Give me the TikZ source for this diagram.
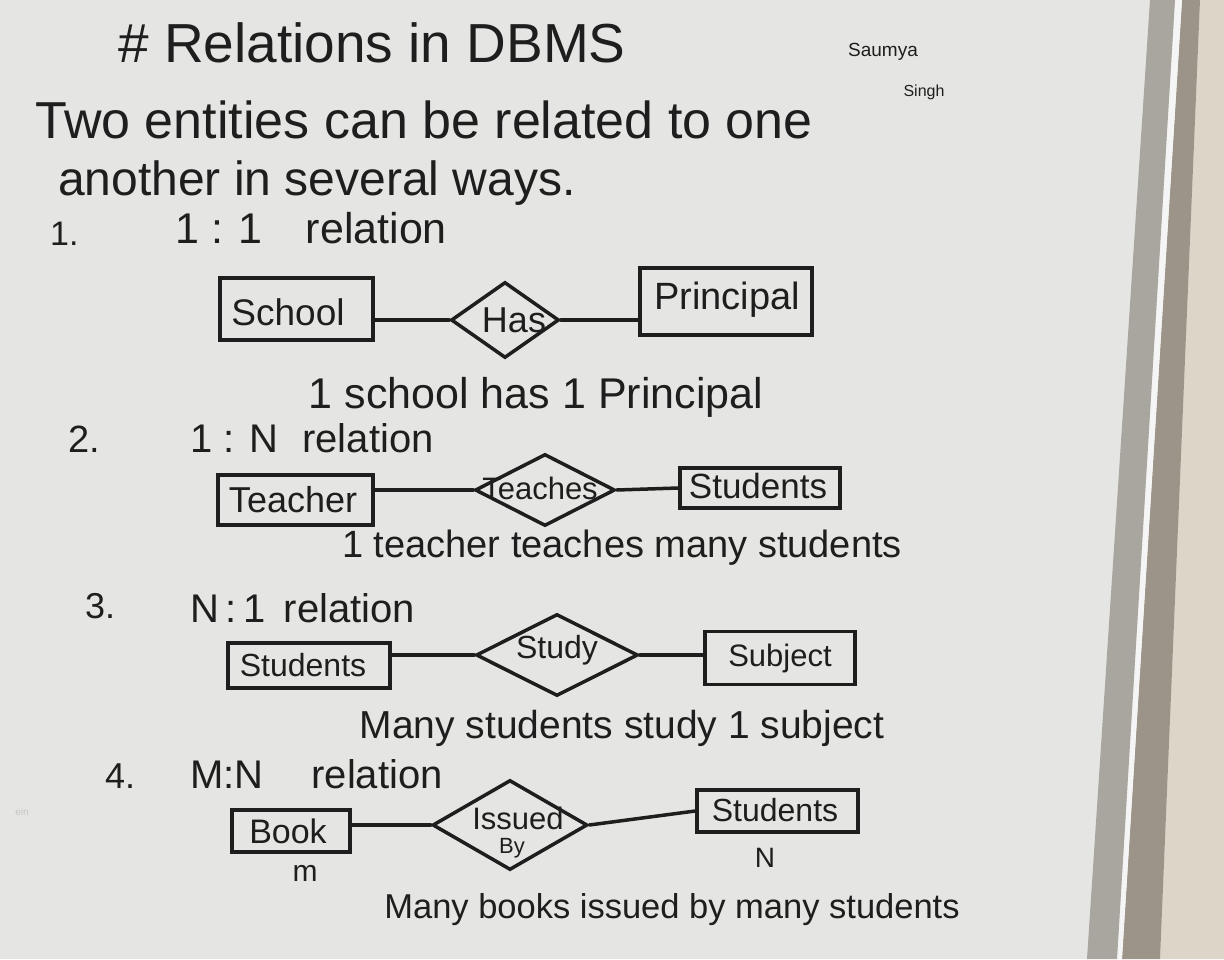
\documentclass[tikz,border=0pt]{standalone}
\usepackage{fontspec}
\setmainfont{Liberation Sans}
\usetikzlibrary{shapes.geometric}
\definecolor{board}{HTML}{E5E5E3}
\definecolor{ink}{HTML}{1E1E1E}
\definecolor{railA}{HTML}{A9A69F}
\definecolor{railB}{HTML}{9C9489}
\definecolor{wall}{HTML}{DDD6C8}
\newcommand\setfs[1]{\fontsize{#1}{#1}\selectfont}
\begin{document}
\begin{tikzpicture}[x=1pt,y=-1pt,
  txt/.style={text=ink, inner sep=0, anchor=base west},
  captxt/.style={text=ink, inner sep=0, anchor=base},
  lbl/.style={text=ink, inner sep=0},
  entity/.style={draw=ink, line width=3.5pt, rectangle, inner sep=0},
  rel/.style={draw=ink, line width=3.5pt, diamond, inner sep=0},
  conn/.style={draw=ink, line width=3.5pt, line cap=round}]
\useasboundingbox (0,0) rectangle (1224,959);
% board and frame
\fill[board] (0,0) rectangle (1224,959);
\fill[wall] (1200,0) -- (1224,0) -- (1224,959) -- (1160,959) -- cycle;
\fill[railB] (1182,0) -- (1200,0) -- (1160,959) -- (1122,959) -- cycle;
\fill[white!92!gray] (1175,0) -- (1182,0) -- (1122,959) -- (1117,959) -- cycle;
\fill[railA] (1150,0) -- (1175,0) -- (1117,959) -- (1087,959) -- cycle;

% heading
\node[txt, font=\setfs{55}] (title) at (118,62) {\# Relations in DBMS};
\node[lbl, font=\setfs{19}] (sig1) at (883,52) {Saumya};
\node[lbl, font=\setfs{16}] (sig2) at (924,92) {Singh};
\node[txt, font=\setfs{52}] (intro1) at (35,138) {Two entities can be related to one};
\node[txt, font=\setfs{48}] (intro2) at (58,195) {another in several ways.};
\node[lbl, font=\setfs{10}, text=gray!45] (ghost) at (22,812) {ein};

% 1 : 1
\node[txt, font=\setfs{34}] (n1) at (50,245) {1.};
\node[txt, font=\setfs{43}] (h1) at (175,243) {1 : 1\hspace{1em}relation};
\node[entity, minimum width=153, minimum height=62] (school) at (296.5,309) {};
\node[lbl, font=\setfs{37}] (schoolT) at (288,312) {School};
\node[rel, minimum width=108, minimum height=76] (has) at (505,320) {};
\node[lbl, font=\setfs{36}] (hasT) at (514,320) {Has};
\node[entity, minimum width=172, minimum height=67] (principal) at (726,301.5) {};
\node[lbl, font=\setfs{38}] (principalT) at (727,300) {Principal};
\draw[conn] (school.east |- has.west) -- (has.west);
\draw[conn] (has.east) -- (has.east -| principal.west);
\node[captxt, font=\setfs{43}] (c1) at (536,408) {1 school has 1 Principal};

% 1 : N
\node[txt, font=\setfs{38}] (n2) at (68,452) {2.};
\node[txt, font=\setfs{40}] (h2) at (190,452) {1 : N\hspace{0.6em}relation};
\node[entity, minimum width=155, minimum height=50] (teacher) at (295.5,500) {};
\node[lbl, font=\setfs{36}] (teacherT) at (293,500) {Teacher};
\node[rel, minimum width=140, minimum height=72] (teaches) at (545,490) {};
\node[lbl, font=\setfs{31}] (teachesT) at (540,488) {Teaches};
\node[entity, minimum width=160, minimum height=40] (students2) at (760,488) {};
\node[lbl, font=\setfs{35}] (students2T) at (758,486) {Students};
\draw[conn] (teacher.east |- teaches.west) -- (teaches.west);
\draw[conn] (teaches.east) -- (students2.west);
\node[captxt, font=\setfs{38}] (c2) at (622,557) {1 teacher teaches many students};

% N : 1
\node[txt, font=\setfs{36}] (n3) at (85,618) {3.};
\node[txt, font=\setfs{40}] (h3) at (190,622) {N\,:\,1\hspace{0.45em}relation};
\node[entity, minimum width=162, minimum height=45] (students3) at (309,665.5) {};
\node[lbl, font=\setfs{32}] (students3T) at (303,665) {Students};
\node[rel, minimum width=162, minimum height=82] (study) at (557,655) {};
\node[lbl, font=\setfs{32}] (studyT) at (557,650) {Study};
\node[entity, minimum width=150, minimum height=53] (subject) at (780,658) {};
\node[lbl, font=\setfs{31}] (subjectT) at (780,658) {Subject};
\draw[conn] (students3.east |- study.west) -- (study.west);
\draw[conn] (study.east) -- (subject.west |- study.east);
\node[captxt, font=\setfs{39}] (c3) at (622,738) {Many students study 1 subject};

% M : N
\node[txt, font=\setfs{36}] (n4) at (105,788) {4.};
\node[txt, font=\setfs{40}] (h4) at (190,788) {M:N\hspace{1.2em}relation};
\node[entity, minimum width=118, minimum height=42] (book) at (291,831) {};
\node[lbl, font=\setfs{34}] (bookT) at (288,831) {Book};
\node[rel, minimum width=155, minimum height=90] (issued) at (510,825) {};
\node[lbl, font=\setfs{31}] (issuedT) at (518,818) {Issued};
\node[lbl, font=\setfs{22}] (byT) at (512,848) {By};
\node[entity, minimum width=161, minimum height=42] (students4) at (777.5,811) {};
\node[lbl, font=\setfs{32}] (students4T) at (775,810) {Students};
\draw[conn] (book.east |- issued.west) -- (issued.west);
\draw[conn] (issued.east) -- (students4.west);
\node[lbl, font=\setfs{30}] (m) at (305,873) {m};
\node[lbl, font=\setfs{28}] (nn) at (765,858) {N};
\node[captxt, font=\setfs{34.5}] (c4) at (672,918) {Many books issued by many students};
\end{tikzpicture}
\end{document}
